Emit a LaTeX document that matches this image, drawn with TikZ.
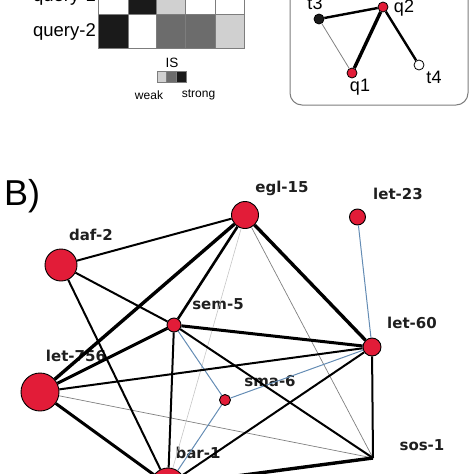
\documentclass[tikz,border=0pt]{standalone}
\usepackage{fontspec}
\setmainfont{Liberation Sans}
\newfontfamily\genefont{DejaVu Sans}
\definecolor{genered}{RGB}{226,28,56}
\definecolor{linkblue}{RGB}{100,140,180}
\definecolor{islight}{RGB}{208,208,208}
\definecolor{isdark}{RGB}{108,108,108}
\definecolor{isblack}{RGB}{26,26,26}
\definecolor{boxgray}{RGB}{125,125,125}
\usetikzlibrary{positioning}
\tikzset{
	gene/.style={
		circle,
		draw=black,
		line width=0.9pt,
		fill=genered,
		inner sep=0pt
	},
	genelabel/.style={
		font=\genefont\bfseries\fontsize{15}{15}\selectfont,
		text=black!88,
		inner sep=0pt
	},
	atext/.style={
		font=\fontsize{18.5}{20}\selectfont,
		inner sep=0pt
	},
	legtext/.style={
		font=\fontsize{12}{13}\selectfont,
		inner sep=0pt
	},
	cell/.style={
		draw=boxgray,
		line width=0.8pt
	},
	qnode/.style={
		circle,
		draw=black,
		line width=0.8pt,
		fill=genered,
		minimum size=10pt,
		inner sep=0pt
	},
	tnode/.style={
		circle,
		draw=black,
		line width=0.8pt,
		fill=isblack,
		minimum size=10pt,
		inner sep=0pt
	},
	onode/.style={
		circle,
		draw=black,
		line width=0.8pt,
		fill=white,
		minimum size=10pt,
		inner sep=0pt
	},
	heavylink/.style={
		draw=black,
		line width=3.4pt
	},
	midlink/.style={
		draw=black,
		line width=2pt
	},
	thinlink/.style={
		draw=gray,
		line width=0.7pt
	},
	ghostlink/.style={
		draw=gray!45,
		line width=0.6pt
	},
	bluelink/.style={
		draw=linkblue,
		line width=1pt
	},
}

\begin{document}
\begin{tikzpicture}[x=1pt,y=-1pt]
	\clip (0,0) rectangle (474,474);
	% A) interaction table
	\draw[cell,fill=white]   (98,-20) rectangle (128,14);
	\draw[cell,fill=isblack] (128,-20) rectangle (156,14);
	\draw[cell,fill=islight] (156,-20) rectangle (185,14);
	\draw[cell,fill=white]   (185,-20) rectangle (215,14);
	\draw[cell,fill=white]   (215,-20) rectangle (244,14);
	\draw[cell,fill=isblack] (98,14) rectangle (128,48);
	\draw[cell,fill=white]   (128,14) rectangle (156,48);
	\draw[cell,fill=isdark]  (156,14) rectangle (185,48);
	\draw[cell,fill=isdark]  (185,14) rectangle (215,48);
	\draw[cell,fill=islight] (215,14) rectangle (244,48);
	\node[atext,anchor=east] (query1) at (96,-3) {query-1};
	\node[atext,anchor=east] (query2) at (96,32) {query-2};
	% IS scale
	\node[legtext,font=\fontsize{13.5}{14}\selectfont] (is) at (172,63) {IS};
	\draw[cell,fill=islight] (157,71) rectangle (166.7,82);
	\draw[cell,fill=isdark]  (166.7,71) rectangle (176.3,82);
	\draw[cell,fill=isblack] (176.3,71) rectangle (186,82);
	\node[legtext] (weak) at (149,95) {weak};
	\node[legtext] (strong) at (198.5,95) {strong};

	% A) small network
	\draw[boxgray,line width=1pt,rounded corners=12pt] (290,-30) rectangle (468,105);
	\node[tnode] (t3) at (319,19) {};
	\node[qnode] (q2) at (383,7) {};
	\node[qnode] (q1) at (352,73) {};
	\node[onode] (t4) at (419,65) {};
	\node[atext,font=\fontsize{18}{18}\selectfont] (t3lab) at (315,3) {t3};
	\node[atext,font=\fontsize{18}{18}\selectfont] (q2lab) at (404,8) {q2};
	\node[atext,font=\fontsize{18}{18}\selectfont] (q1lab) at (360,87) {q1};
	\node[atext,font=\fontsize{18}{18}\selectfont] (t4lab) at (434,77) {t4};
	\path
	(t3) edge[draw=gray,line width=0.8pt] (q1)
	(t3) edge[line width=2.4pt] (q2)
	(q1) edge[line width=3.4pt] (q2)
	(q2) edge[line width=2.4pt] (t4)
	;

	% B) gene network
	\node[atext,font=\fontsize{36}{36}\selectfont,anchor=base west] (panelB) at (4,205) {B)};
	\node[gene,minimum size=27pt] (egl15) at (245,215) {};
	\node[gene,minimum size=16pt] (let23) at (357.5,217) {};
	\node[gene,minimum size=32pt] (daf2) at (61,265) {};
	\node[gene,minimum size=14pt] (sem5) at (174,325) {};
	\node[gene,minimum size=18pt] (let60) at (372,347) {};
	\node[gene,minimum size=38pt] (let756) at (40,392) {};
	\node[gene,minimum size=11pt] (sma6) at (225,400) {};
	\node[gene,minimum size=34pt] (bar1) at (168,485) {};
	\coordinate (sos1) at (373,458);

	\node[genelabel] at (282,188) {egl-15};
	\node[genelabel] at (398,194) {let-23};
	\node[genelabel] at (91,235) {daf-2};
	\node[genelabel] at (218,304) {sem-5};
	\node[genelabel] at (412,323) {let-60};
	\node[genelabel] at (76,356) {let-756};
	\node[genelabel] at (270,381) {sma-6};
	\node[genelabel] at (198,453) {bar-1};
	\node[genelabel] at (422,445) {sos-1};

	\path
	(egl15) edge[ghostlink] (bar1)
	(egl15) edge[thinlink] (sos1)
	(let756) edge[thinlink] (sos1)
	(let23) edge[bluelink] (let60)
	(sem5) edge[bluelink] (sma6)
	(sma6) edge[bluelink] (let60)
	(sma6) edge[bluelink] (bar1)
	(egl15) edge[midlink] (daf2)
	(daf2) edge[midlink] (sem5)
	(daf2) edge[midlink] (bar1)
	(egl15) edge[heavylink] (let756)
	(egl15) edge[midlink,line width=2.6pt] (sem5)
	(egl15) edge[heavylink] (let60)
	(sem5) edge[heavylink,line width=3pt] (let756)
	(sem5) edge[heavylink,line width=3pt] (let60)
	(sem5) edge[midlink] (bar1)
	(sem5) edge[midlink] (sos1)
	(let60) edge[midlink] (let756)
	(let60) edge[midlink] (bar1)
	(let60) edge[midlink] (sos1)
	(let756) edge[heavylink,line width=3pt] (bar1)
	(bar1) edge[heavylink] (sos1)
	;
\end{tikzpicture}
\end{document}
